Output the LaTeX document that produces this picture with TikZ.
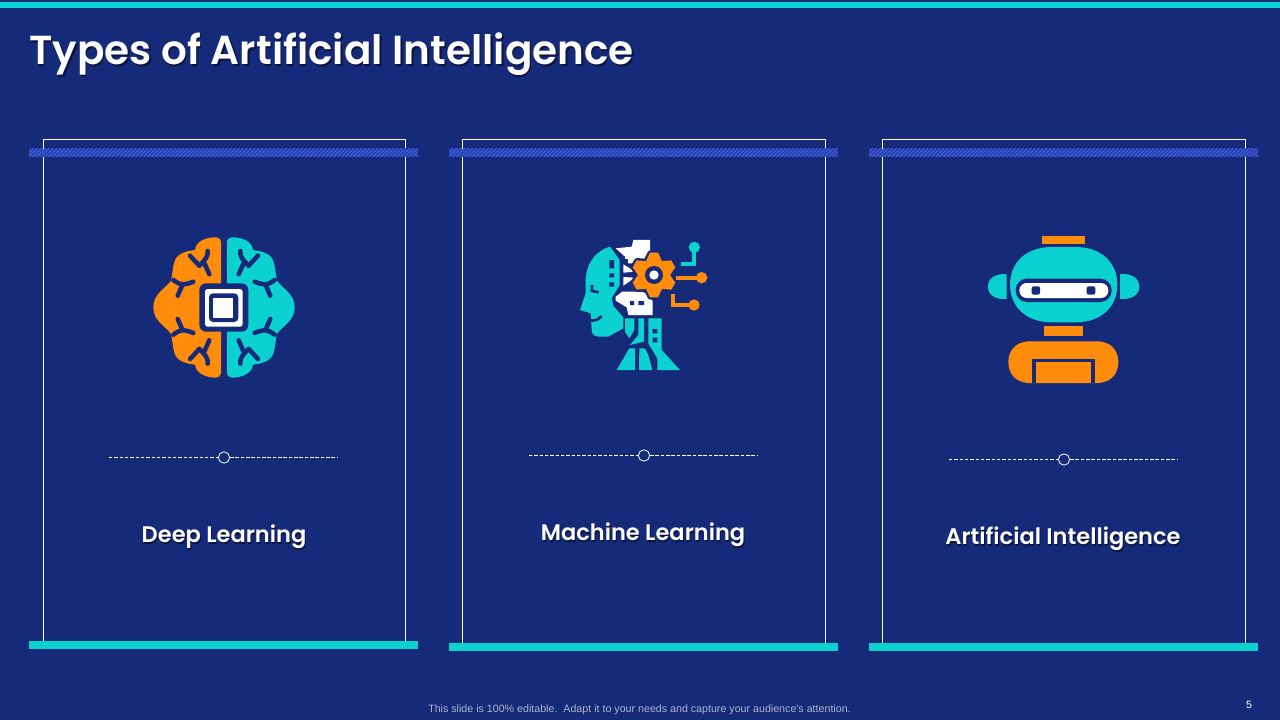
\documentclass[tikz,border=0pt]{standalone}
\usepackage{fontspec}
\setmainfont{Poppins}[BoldFont=* SemiBold]
\newfontfamily\footfont{Liberation Sans}
\usetikzlibrary{patterns.meta}
\definecolor{bgnavy}{HTML}{152A78}
\definecolor{aqua}{HTML}{0BD2D0}
\definecolor{amber}{HTML}{FF8C0B}
\definecolor{hatchbase}{HTML}{223BA4}
\definecolor{hatchline}{HTML}{3E5CDA}
\definecolor{shadowc}{HTML}{0B1440}
\definecolor{footc}{HTML}{AEB4CC}
\tikzset{
  panelframe/.style={draw=white,line width=0.75pt},
  hatchbar/.style={fill=hatchbase,postaction={pattern={Lines[angle=45,distance=2.1pt,line width=1pt]},pattern color=hatchline}},
  basebar/.style={fill=aqua},
  divider/.style={draw=white,line width=0.5pt,dash pattern=on 2.6pt off 1.4pt},
  dotmark/.style={circle,draw=white,fill=bgnavy,line width=0.6pt,minimum size=8.5pt,inner sep=0pt},
  headlabel/.style={text=white,font=\fontsize{16.9}{20}\selectfont\bfseries,inner sep=0pt},
  headshadow/.style={text=shadowc,font=\fontsize{16.9}{20}\selectfont\bfseries,inner sep=0pt},
  fold/.style={draw=bgnavy,line width=3.4pt,line cap=round,line join=round},
  wire/.style={line width=3pt,line join=miter},
  gearedge/.style={draw=bgnavy,line width=3.5pt,line join=round},
}
\newcommand{\brainhalf}[1]{%
  \fill[#1] (243,445) -- (243,52) .. controls (243,42) and (235,37) .. (225,37)
    .. controls (195,37) and (168,50) .. (165,75) .. controls (140,78) and (112,85) .. (104,108)
    .. controls (97,128) and (98,148) .. (93,167) .. controls (78,190) and (40,205) .. (40,247)
    .. controls (40,289) and (78,304) .. (93,327) .. controls (98,346) and (97,366) .. (104,386)
    .. controls (112,409) and (140,416) .. (165,419) .. controls (168,444) and (195,457) .. (225,458)
    .. controls (235,458) and (243,452) .. (243,445) -- cycle;
  \draw[fold] (203,78) .. controls (205,95) and (195,105) .. (178,122);
  \draw[fold] (150,92) -- (178,122);
  \draw[fold] (192,112) -- (208,148);
  \draw[fold] (160,170) .. controls (140,178) and (125,185) .. (100,165);
  \draw[fold] (125,185) -- (113,212);
  \draw[fold] (203,416) .. controls (205,399) and (195,389) .. (178,372);
  \draw[fold] (150,402) -- (178,372);
  \draw[fold] (192,382) -- (208,346);
  \draw[fold] (160,324) .. controls (140,316) and (125,309) .. (100,329);
  \draw[fold] (125,309) -- (113,282);
}
\begin{document}
\begin{tikzpicture}[x=0.75pt,y=-0.75pt]
\useasboundingbox (0,0) rectangle (1280,720);
\fill[bgnavy] (0,0) rectangle (1280,720);
\fill[aqua] (0,2) rectangle (1280,8);
% title
\node[text=shadowc,font=\fontsize{30.4}{36}\selectfont\bfseries,anchor=west,inner sep=0pt] (titleshadow) at (30.5,56) {Types of Artificial Intelligence};
\node[text=white,font=\fontsize{30.4}{36}\selectfont\bfseries,anchor=west,inner sep=0pt] (title) at (29,54.5) {Types of Artificial Intelligence};
% panel 1
\draw[panelframe] (43.5,642) -- (43.5,139.5) -- (405.5,139.5) -- (405.5,642);
\path[hatchbar] (29,149) rectangle (418,157);
\path[basebar] (29,641) rectangle (418,649);
\node[dotmark] (d1) at (224,457.5) {};
\coordinate (d1l) at (109,457.5); \coordinate (d1r) at (338,457.5);
\draw[divider] (d1l) -- (d1); \draw[divider] (d1) -- (d1r);
\node[headshadow] (l1s) at (225,538.5) {Deep Learning};
\node[headlabel] (l1) at (224,537) {Deep Learning};
% panel 2
\draw[panelframe] (462.5,644) -- (462.5,139.5) -- (825.5,139.5) -- (825.5,644);
\path[hatchbar] (449,149) rectangle (838,157);
\path[basebar] (449,643) rectangle (838,651);
\node[dotmark] (d2) at (644,455.5) {};
\coordinate (d2l) at (529,455.5); \coordinate (d2r) at (758,455.5);
\draw[divider] (d2l) -- (d2); \draw[divider] (d2) -- (d2r);
\node[headshadow] (l2s) at (644,536.5) {Machine Learning};
\node[headlabel] (l2) at (643,535) {Machine Learning};
% panel 3
\draw[panelframe] (882.5,644) -- (882.5,139.5) -- (1245.5,139.5) -- (1245.5,644);
\path[hatchbar] (869,149) rectangle (1258,157);
\path[basebar] (869,643) rectangle (1258,651);
\node[dotmark] (d3) at (1064,459.5) {};
\coordinate (d3l) at (949,459.5); \coordinate (d3r) at (1178,459.5);
\draw[divider] (d3l) -- (d3); \draw[divider] (d3) -- (d3r);
\node[headshadow] (l3s) at (1064,540.5) {Artificial Intelligence};
\node[headlabel] (l3) at (1063,539) {Artificial Intelligence};
% brain
\begin{scope}[shift={(140,225)},x=0.25pt,y=-0.25pt]
  \brainhalf{amber}
  \begin{scope}[shift={(504,0)},x=-0.25pt]
    \brainhalf{aqua}
  \end{scope}
  \fill[bgnavy,rounded corners=5pt] (178,175) rectangle (325,320);
  \fill[white,rounded corners=2pt] (195,192) rectangle (308,305);
  \fill[bgnavy,rounded corners=3pt] (207,205) rectangle (295,291);
  \fill[white] (220,218) rectangle (280,278);
\end{scope}
% AI head
\begin{scope}[shift={(570,230)},x=0.25pt,y=-0.25pt]
  \fill[aqua] (120,50) .. controls (85,60) and (50,90) .. (47,150) -- (47,190) -- (30,240) -- (62,250) -- (65,300) .. controls (66,312) and (70,318) .. (85,320) -- (115,320) -- (160,295) -- (160,262) -- (130,228) -- (125,205) -- (149,165) -- (149,90) -- cycle;
  \fill[bgnavy] (118,90) rectangle (132,115) (118,130) rectangle (132,142) (118,157) rectangle (132,170);
  \draw[bgnavy,line width=2pt] (66,165) -- (66,183) -- (86,187);
  \draw[bgnavy,line width=2pt] (55,270) .. controls (72,275) and (85,270) .. (95,258);
  \fill[white] (137,55) -- (185,50) -- (190,30) -- (240,30) -- (240,100) -- (165,100) -- (165,80) -- cycle;
  \fill[bgnavy] (149,88) -- (175,88) -- (175,105) -- (149,105) -- cycle;
  \fill[white] (160,103) -- (195,125) -- (160,128) -- cycle (160,141) -- (195,143) -- (160,167) -- cycle;
  \fill[white] (137,200) -- (157,185) -- (215,185) -- (240,195) -- (248,215) -- (248,255) -- (175,255) -- (170,232) -- (137,212) -- cycle;
  \fill[bgnavy] (180,213) rectangle (192,225) (205,213) rectangle (222,225);
  % gear
  \foreach \a in {90,30,-30,-90,-150,150}{
    \path[gearedge,rotate around={\a:(252,135)}] (292,110) -- (319,123) -- (319,147) -- (292,160) -- cycle;
  }
  \path[gearedge] (252,135) circle[radius=46];
  \foreach \a in {90,30,-30,-90,-150,150}{
    \fill[amber,rotate around={\a:(252,135)}] (292,110) -- (319,123) -- (319,147) -- (292,160) -- cycle;
  }
  \fill[amber] (252,135) circle[radius=46];
  \fill[bgnavy] (252,135) circle[radius=27];
  \fill[white] (252,135) circle[radius=14];
  % wires
  \draw[aqua,wire] (373,60) -- (373,101) -- (333,101);
  \fill[aqua] (373,52) circle[radius=17];
  \draw[amber,wire] (318,143) -- (395,143);
  \fill[amber] (395,143) circle[radius=17];
  \draw[amber,wire] (310,193) -- (310,225) -- (372,225);
  \fill[amber] (372,225) circle[radius=17];
  % body
  \fill[aqua] (165,265) -- (193,265) -- (193,300) -- (178,325) -- (165,305) -- cycle;
  \fill[aqua] (205,265) -- (222,265) -- (222,335) -- (180,345) -- (205,315) -- cycle;
  \fill[aqua] (235,265) -- (275,265) -- (275,360) -- (330,420) -- (262,420) -- (262,385) -- (235,340) -- cycle;
  \fill[bgnavy] (248,297) rectangle (262,310) (248,323) rectangle (262,337);
  \fill[aqua] (208,355) -- (225,355) -- (235,375) -- (247,420) -- (207,420) -- cycle;
  \fill[aqua] (178,355) -- (195,355) -- (195,420) -- (140,420) -- cycle;
\end{scope}
% robot
\begin{scope}[shift={(980,228)},x=0.25pt,y=-0.25pt]
  \fill[amber] (185,25) rectangle (315,47);
  \fill[aqua] (215,57) -- (287,57) .. controls (365,57) and (412,105) .. (412,170) .. controls (412,235) and (365,283) .. (287,283) -- (215,283) .. controls (137,283) and (90,235) .. (90,170) .. controls (90,105) and (137,57) .. (215,57) -- cycle;
  \fill[aqua] (80,138) .. controls (42,136) and (24,153) .. (24,176) .. controls (24,199) and (42,215) .. (80,213) -- cycle;
  \fill[aqua] (420,138) .. controls (458,136) and (478,153) .. (478,176) .. controls (478,199) and (458,215) .. (420,213) -- cycle;
  \fill[bgnavy,rounded corners=8.5pt] (107,152) rectangle (395,222);
  \fill[white,rounded corners=5.5pt] (118,165) rectangle (385,210);
  \fill[bgnavy,rounded corners=1.5pt] (155,175) rectangle (180,200) (320,175) rectangle (346,200);
  \fill[amber] (192,293) rectangle (310,325);
  \fill[amber] (150,340) -- (350,340) .. controls (395,340) and (415,370) .. (415,402) .. controls (415,435) and (395,465) .. (350,465) -- (150,465) .. controls (105,465) and (85,435) .. (85,402) .. controls (85,370) and (105,340) .. (150,340) -- cycle;
  \fill[bgnavy] (157,392) rectangle (345,465);
  \fill[amber] (168,403) rectangle (333,465);
\end{scope}
% footer
\node[text=footc,font=\footfont\fontsize{8}{9}\selectfont,inner sep=0pt] (foot) at (639.5,710) {This slide is 100\% editable.\ \ Adapt it to your needs and capture your audience's attention.};
\node[text=white,font=\footfont\fontsize{8}{9}\selectfont,inner sep=0pt] (page) at (1249,705) {5};
\end{tikzpicture}
\end{document}
